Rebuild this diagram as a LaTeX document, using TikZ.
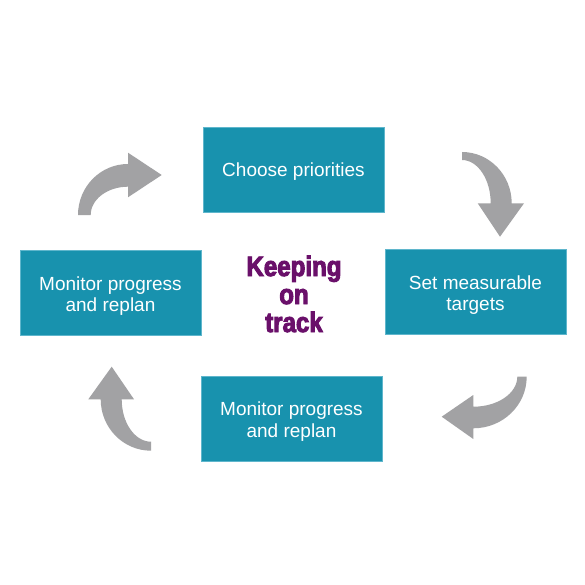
\documentclass[tikz,border=0pt]{standalone}
\usepackage{fontspec}
\setmainfont{Liberation Sans}
\newfontfamily\keepfont[FakeStretch=0.86,FakeBold=3.4]{Liberation Sans Bold}
\definecolor{boxteal}{RGB}{24,146,174}
\definecolor{boxedge}{RGB}{95,182,204}
\definecolor{arrowgray}{RGB}{162,162,164}
\definecolor{keeppurple}{RGB}{106,16,106}
\begin{document}
\begin{tikzpicture}[x=1pt,y=-1pt,
  stepbox/.style={rectangle, fill=boxteal, draw=boxedge, line width=0.6pt,
    minimum width=181pt, minimum height=85pt, inner sep=0pt},
  steptext/.style={text=white, align=center, inner sep=0pt,
    font=\fontsize{19}{21.5}\selectfont},
  blockarrow/.style={fill=arrowgray, draw=none}]
\useasboundingbox (0,0) rectangle (585,585);
\fill[white] (0,0) rectangle (585,585);

\node[stepbox] (choose) at (293.5,169.5) {};
\node[stepbox] (target) at (475.5,292) {};
\node[stepbox] (monleft) at (110.5,293) {};
\node[stepbox] (monbot) at (291.5,418.5) {};

\node[steptext] (choosetxt) at ([yshift=-2.5pt]choose.center) {Choose priorities};
\node[steptext] (targettxt) at ([yshift=-3pt]target.center) {Set measurable\\targets};
\node[steptext] (monlefttxt) at ([yshift=-3pt]monleft.center) {Monitor progress\\and replan};
\node[steptext] (monbottxt) at ([yshift=-3pt]monbot.center) {Monitor progress\\and replan};

\node[text=keeppurple, align=center, font=\keepfont\fontsize{28}{28}\selectfont] (center) at (294,294) {Keeping\\on\\track};

% top-left arrow
\path[blockarrow] (78,215) .. controls (78,186.8) and (100.4,164) .. (128,164)
  -- (128,152.7) -- (161.7,175) -- (128,197.3) -- (128,186.7)
  .. controls (107.4,186.7) and (90.7,199.4) .. (90.7,215) -- cycle;
% top-right arrow
\path[blockarrow] (462,152) .. controls (489.4,152) and (511.7,175) .. (511.7,203.3)
  -- (524,203.3) -- (500,236.7) -- (477.7,203.3) -- (490.7,203.3)
  .. controls (490.7,179.4) and (477.8,160) .. (462,160) -- cycle;
% bottom-right arrow
\path[blockarrow] (526.7,376.7) .. controls (526.7,405.2) and (502.8,428.3) .. (473.3,428.3)
  -- (473.3,439) -- (441.7,416.7) -- (473.3,395) -- (473.3,406.7)
  .. controls (497.6,406.7) and (517.3,393.3) .. (517.3,376.7) -- cycle;
% bottom-left arrow
\path[blockarrow] (151,450.7) .. controls (123.2,450.7) and (100.7,427.7) .. (100.7,399.3)
  -- (88.3,399.3) -- (111.7,366.7) -- (134,399.3) -- (121.7,399.3)
  .. controls (121.7,422.7) and (134.8,441.7) .. (151,441.7) -- cycle;
\end{tikzpicture}
\end{document}
